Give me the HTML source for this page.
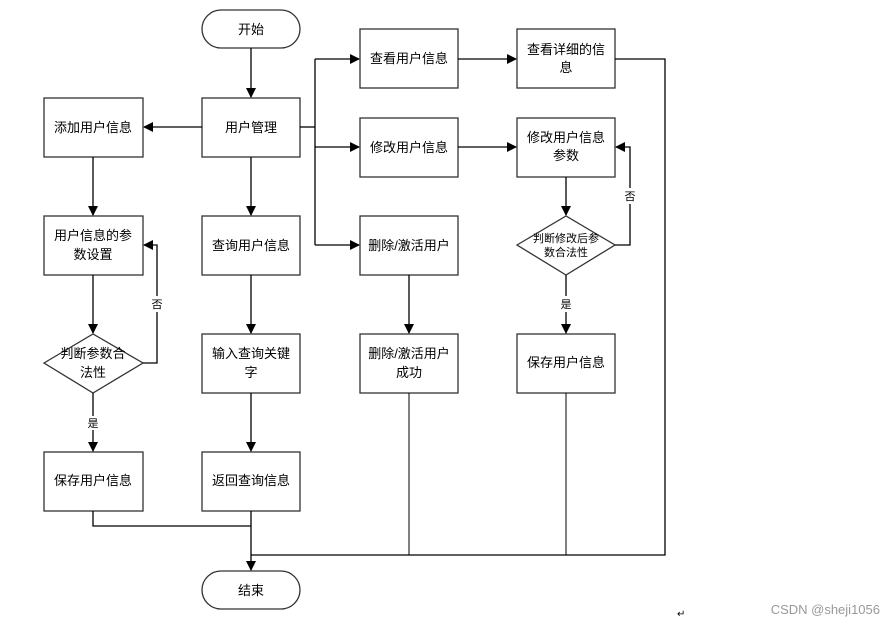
<!DOCTYPE html>
<html><head><meta charset="utf-8"><style>
body{margin:0;background:#fff;width:894px;height:626px;overflow:hidden}
svg text{font-family:"Liberation Sans","Noto Sans CJK SC",sans-serif;fill:#000}
</style></head><body>
<svg width="894" height="626" viewBox="0 0 894 626" xmlns="http://www.w3.org/2000/svg">
<defs>
<marker id="a" markerWidth="10" markerHeight="10" refX="9" refY="5" orient="auto" markerUnits="userSpaceOnUse"><path d="M0,0 L10,5 L0,10 z" fill="#000"/></marker>
</defs>
<g fill="#fff" stroke="#333" stroke-width="1.3">
<rect x="202" y="10" width="98" height="38" rx="19"/>
<rect x="202" y="571" width="98" height="38" rx="19"/>
<rect x="44" y="98" width="99" height="59"/>
<rect x="44" y="216" width="99" height="59"/>
<polygon points="44,363 93,334 143,363 93,393"/>
<rect x="44" y="452" width="99" height="59"/>
<rect x="202" y="98" width="98" height="59"/>
<rect x="202" y="216" width="98" height="59"/>
<rect x="202" y="334" width="98" height="59"/>
<rect x="202" y="452" width="98" height="59"/>
<rect x="360" y="29" width="98" height="59"/>
<rect x="360" y="118" width="98" height="59"/>
<rect x="360" y="216" width="98" height="59"/>
<rect x="360" y="334" width="98" height="59"/>
<rect x="517" y="29" width="98" height="59"/>
<rect x="517" y="118" width="98" height="59"/>
<polygon points="517,245 566,216 615,245 566,275"/>
<rect x="517" y="334" width="98" height="59"/>
</g>
<g fill="none" stroke="#000" stroke-width="1.3">
<line x1="251" y1="48" x2="251" y2="97" marker-end="url(#a)"/>
<line x1="202" y1="127" x2="144" y2="127" marker-end="url(#a)"/>
<line x1="251" y1="157" x2="251" y2="215" marker-end="url(#a)"/>
<line x1="251" y1="275" x2="251" y2="333" marker-end="url(#a)"/>
<line x1="251" y1="393" x2="251" y2="451" marker-end="url(#a)"/>
<line x1="93" y1="157" x2="93" y2="215" marker-end="url(#a)"/>
<line x1="93" y1="275" x2="93" y2="333" marker-end="url(#a)"/>
<polyline points="93,393 93,416"/>
<line x1="93" y1="430" x2="93" y2="451" marker-end="url(#a)"/>
<polyline points="143,363 157,363 157,312"/>
<polyline points="157,296 157,245 144,245" marker-end="url(#a)"/>
<polyline points="300,127 315,127"/>
<polyline points="315,59 315,245"/>
<line x1="315" y1="59" x2="359" y2="59" marker-end="url(#a)"/>
<line x1="315" y1="147" x2="359" y2="147" marker-end="url(#a)"/>
<line x1="315" y1="245" x2="359" y2="245" marker-end="url(#a)"/>
<line x1="409" y1="275" x2="409" y2="333" marker-end="url(#a)"/>
<line x1="458" y1="59" x2="516" y2="59" marker-end="url(#a)"/>
<line x1="458" y1="147" x2="516" y2="147" marker-end="url(#a)"/>
<line x1="566" y1="177" x2="566" y2="215" marker-end="url(#a)"/>
<polyline points="566,275 566,296"/>
<line x1="566" y1="312" x2="566" y2="333" marker-end="url(#a)"/>
<polyline points="615,245 630,245 630,204"/>
<polyline points="630,188 630,147 616,147" marker-end="url(#a)"/>
<polyline points="615,59 665,59 665,555 251,555"/>
<polyline points="93,511 93,526 251,526"/>
<line x1="251" y1="511" x2="251" y2="570" marker-end="url(#a)"/>
<line x1="409" y1="393" x2="409" y2="555" stroke-width="1"/>
<line x1="566" y1="393" x2="566" y2="555" stroke-width="1"/>
</g>
<g font-size="13" text-anchor="middle">
<text x="251" y="34">开始</text>
<text x="251" y="595">结束</text>
<text x="93" y="132">添加用户信息</text>
<text x="93" y="240">用户信息的参</text>
<text x="93" y="259">数设置</text>
<text x="93" y="358">判断参数合</text>
<text x="93" y="377">法性</text>
<text x="93" y="485">保存用户信息</text>
<text x="251" y="132">用户管理</text>
<text x="251" y="250">查询用户信息</text>
<text x="251" y="358">输入查询关键</text>
<text x="251" y="377">字</text>
<text x="251" y="485">返回查询信息</text>
<text x="409" y="63">查看用户信息</text>
<text x="409" y="152">修改用户信息</text>
<text x="409" y="250">删除/激活用户</text>
<text x="409" y="358">删除/激活用户</text>
<text x="409" y="377">成功</text>
<text x="566" y="54">查看详细的信</text>
<text x="566" y="72">息</text>
<text x="566" y="142">修改用户信息</text>
<text x="566" y="160">参数</text>
<text x="566" y="242" font-size="11">判断修改后参</text>
<text x="566" y="256" font-size="11">数合法性</text>
<text x="566" y="367">保存用户信息</text>
<text x="157" y="308" font-size="11">否</text>
<text x="93" y="427" font-size="11">是</text>
<text x="630" y="200" font-size="11">否</text>
<text x="566" y="308" font-size="11">是</text>
</g>
<text x="677" y="617" font-size="10" fill="#666">↵</text>
<text x="880" y="614" font-size="13" text-anchor="end" style="fill:#999">CSDN @sheji1056</text>
</svg>
</body></html>
